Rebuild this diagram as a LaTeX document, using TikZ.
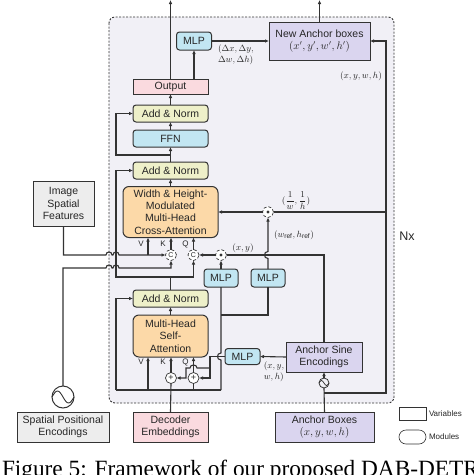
\documentclass[tikz,border=0pt]{standalone}
\usepackage{fontspec}
\setmainfont{Liberation Sans}
\newfontfamily\capfont{Liberation Serif}
\usetikzlibrary{arrows.meta,calc}
\definecolor{outerfill}{HTML}{F1F0F6}
\definecolor{cyanf}{HTML}{C2E6F2}
\definecolor{yelf}{HTML}{EEF0C9}
\definecolor{orf}{HTML}{FCD9A8}
\definecolor{pinkf}{HTML}{FADADF}
\definecolor{lavf}{HTML}{DAD5EF}
\definecolor{grayf}{HTML}{EDEDED}
\definecolor{edge}{HTML}{333333}
\begin{document}
\begin{tikzpicture}[x=1pt,y=-1pt,
  every node/.style={inner sep=0pt, outer sep=0pt, align=center, text=black!85,
    font=\fontsize{10.5}{12.4}\selectfont},
  sz/.style 2 args={minimum width=#1pt, minimum height=#2pt},
  mod/.style={draw=edge, line width=1pt, rounded corners=3pt},
  var/.style={draw=edge, line width=1pt},
  line/.style={draw=edge, line width=1.1pt},
  arr/.style={line, -{Latex[length=4pt,width=3.6pt]}},
  cc/.style={circle, draw=edge, densely dashed, line width=0.7pt, minimum size=11pt, fill=white,
    font=\fontsize{7}{7}\selectfont},
  pc/.style={circle, draw=edge, line width=0.7pt, minimum size=11pt, fill=white,
    font=\fontsize{9}{9}\selectfont},
  lab/.style={font=\fontsize{8}{8}\selectfont},
  mlab/.style={font=\fontsize{9.5}{11}\selectfont},
]
\useasboundingbox (0,0) rectangle (474,475);
\begin{scope}
\clip (0,0) rectangle (474,475);
% outer dashed block
\draw[draw=edge, line width=0.9pt, dash pattern=on 2pt off 1.5pt, fill=outerfill, rounded corners=6pt] (109,17) rectangle (394,403);

% nodes
\node[var, fill=pinkf, sz={75}{15}] (out) at (170.5,86.5) {Output};
\node[mod, fill=cyanf, sz={35}{18}] (mlpt) at (194,41) {MLP};
\node[var, fill=lavf, sz={101}{38}] (nab) at (319.5,41) {New Anchor boxes\\$(x',y',w',h')$};
\node[mod, fill=yelf, sz={75}{17}] (an3) at (170.5,113.5) {Add \& Norm};
\node[mod, fill=cyanf, sz={75}{17}] (ffn) at (170.5,138.5) {FFN};
\node[mod, fill=yelf, sz={75}{17}] (an2) at (170.5,170.5) {Add \& Norm};
\node[mod, fill=orf, sz={95}{51}, rounded corners=6pt] (ca) at (170.5,212) {Width \& Height-\\Modulated\\Multi-Head\\Cross-Attention};
\node[mod, fill=yelf, sz={75}{17}] (an1) at (170.5,298.5) {Add \& Norm};
\node[mod, fill=orf, sz={75}{42}, rounded corners=6pt] (sa) at (170.5,336) {Multi-Head\\Self-\\Attention};
\node[var, fill=pinkf, sz={75}{30}] (dec) at (170.5,427) {Decoder\\Embeddings};
\node[var, fill=grayf, sz={92}{30}] (spe) at (63,427) {Spatial Positional\\Encodings};
\node[var, fill=grayf, sz={61}{45}] (isf) at (63.5,203.5) {Image\\Spatial\\Features};
\node[mod, fill=cyanf, sz={34}{18}] (mlp1) at (221,278) {MLP};
\node[mod, fill=cyanf, sz={34}{18}] (mlp2) at (268,278) {MLP};
\node[mod, fill=cyanf, sz={35}{16}] (mlp3) at (242.5,356.5) {MLP};
\node[var, fill=lavf, sz={76}{30}] (ase) at (324,357) {Anchor Sine\\Encodings};
\node[var, fill=lavf, sz={99}{30}] (ab) at (324.5,427) {Anchor Boxes\\$(x,y,w,h)$};

% operator circles
\node[cc] (ck) at (171,255) {C};
\node[cc] (cq) at (193.5,255) {C};
\node[cc] (o1) at (221,255) {};
\fill[edge] (o1.center) circle (1.7);
\node[cc] (o2) at (268,212) {};
\fill[edge] (o2.center) circle (1.7);
\node[pc] (pk) at (171,378) {+};
\node[pc] (pq) at (193.5,378) {+};
\node[circle, draw=edge, line width=1pt, minimum size=22pt] (sin1) at (63,397) {};
\draw[edge, line width=0.9pt] (52,397) sin (57.5,391) cos (63,397) sin (68.5,403) cos (74,397);
\node[circle, draw=edge, line width=0.8pt, minimum size=10pt] (sin2) at (324,383) {};
\draw[edge, line width=0.7pt] (319,383) sin (321.5,380.5) cos (324,383) sin (326.5,385.5) cos (329,383);

% coordinates
\coordinate (top1) at (170.5,0);
\coordinate (top2) at (319.5,0);
\coordinate (r1) at (170.5,155);
\coordinate (j1) at (170.5,277);
\coordinate (vca) at (148,255);
\coordinate (br) at (324,393);
\coordinate (rb) at (386,212);
\coordinate (bus1) at (116,390);
\coordinate (bus2) at (221,390);
\coordinate (m3) at (210,356.5);
\coordinate (m3b) at (210,368);

% top part
\draw[arr] (out.north) -- (top1);
\draw[arr] (out.north -| mlpt.south) -- (mlpt.south);
\draw[arr] (mlpt.east) -- (nab.west);
\draw[arr] (nab.north) -- (top2);
\draw[arr] (an3.north) -- (out.south);
\draw[arr] (ffn.north) -- (an3.south);
\draw[arr] (an2.north) -- (ffn.south);
\draw[arr] (ca.north) -- (an2.south);
\draw[arr] (r1) -| (116,113.5) -- (an3.west);

% cross-attention inputs
\draw[line] (an1.north) -- (j1);
\draw[arr] (j1) -| (cq.south);
\draw[arr] (j1) -- (116,277) |- (an2.west);
\draw[arr] (isf.south) -- (63.5,255) -- (106,255) .. controls (106,251) and (112,251) .. (112,255)
   -- (113,255) .. controls (113,251) and (119,251) .. (119,255) -- (ck.west);
\draw[arr] (vca) -- (vca |- ca.south);
\draw[arr] (sin1.north) -- (63,268) -- (106,268) .. controls (106,264) and (112,264) .. (112,268)
   -- (113,268) .. controls (113,264) and (119,264) .. (119,268) -- (171,268) -- (ck.south);
\draw[arr] (ck.north) -- (ck.north |- ca.south);
\draw[arr] (cq.north) -- (cq.north |- ca.south);
\draw[arr] (o1.west) -- (cq.east);
\draw[arr] (mlp1.north) -- (o1.south);
\draw[line] (ase.north) |- (o1.east);
\draw[arr] (mlp2.north) -- (268,258.5) .. controls (263.3,258.5) and (263.3,251.5) .. (268,251.5) -- (o2.south);
\draw[arr] (o2.west) -- (ca.east);
\draw[line] (rb) -- (o2.east);

% anchor boxes
\draw[line] (ab.north) -- (sin2.south);
\draw[arr] (sin2.north) -- (ase.south);
\draw[arr] (br) -| (386,41) -- (nab.east);
\draw[arr] (ase.west) -- (mlp3.east);

% self-attention inputs
\draw[arr] (mlp3.west) -- (m3) -- (210,378) -- (pq.east);
\draw[arr] (m3b) -- (197,368) .. controls (197,364) and (190,364) .. (190,368) -- (186,368) -- (186,378) -- (pk.east);
\draw[line] (bus1) -- (bus2);
\draw[arr] (bus1) |- (an1.west);
\draw[arr] (148,390) -- (148,357);
\draw[line] (dec.north) -- (pk.south);
\draw[line] (193.5,390) -- (pq.south);
\draw[arr] (pk.north) -- (pk.north |- sa.south);
\draw[arr] (pq.north) -- (pq.north |- sa.south);
\draw[line] (bus2) -- (221,360) .. controls (216.3,360) and (216.3,353) .. (221,353) -- (mlp1.south);
\draw[line] (221,315) -| (mlp2.south);
\draw[arr] (sa.north) -- (an1.south);

% labels
\node[lab] at (141,244) {V};
\node[lab] at (163,244) {K};
\node[lab] at (185.5,244) {Q};
\node[lab] at (141,362) {V};
\node[lab] at (163,362) {K};
\node[lab] at (185.5,362) {Q};
\node[mlab, anchor=west, align=left] at (218,55) {$(\Delta x,\Delta y,$\\$\Delta w,\Delta h)$};
\node[mlab] at (361,76) {$(x,y,w,h)$};
\node[font=\fontsize{9.5}{10}\selectfont] at (296,201) {$\displaystyle(\frac{1}{w},\frac{1}{h})$};
\node[mlab] at (294,235) {$(w_{\mathrm{ref}},h_{\mathrm{ref}})$};
\node[mlab] at (243,248) {$(x,y)$};
\node[mlab, align=left] at (274,372) {$(x,y,$\\$w,h)$};
\node[font=\fontsize{12.5}{12.5}\selectfont] at (407,236) {Nx};

% legend
\node[draw=edge, line width=0.6pt, sz={27}{13}] (lv) at (412.5,413.5) {};
\node[lab, anchor=west] at (lv.east) [xshift=3pt] {Variables};
\node[draw=edge, line width=0.6pt, sz={27}{14}, rounded corners=7pt] (lm) at (412.5,437) {};
\node[lab, anchor=west] at (lm.east) [xshift=3pt] {Modules};

% caption (cut by the frame)
\node[anchor=base west, font=\capfont\fontsize{23.3}{23.3}\selectfont, text=black] at (2,476) {Figure 5: Framework of our proposed DAB-DETR};
\end{scope}
\end{tikzpicture}
\end{document}
